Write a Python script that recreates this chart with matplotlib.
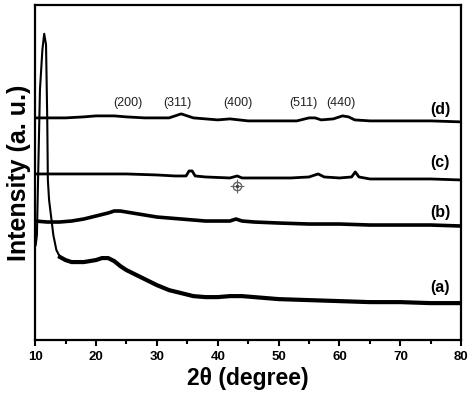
import matplotlib.pyplot as plt

plt.rcParams['font.family'] = ['Liberation Sans', 'DejaVu Sans']

# 2theta (degree) / intensity (a.u.)
two_theta_a = [10.1, 10.3, 10.8, 11.2, 11.5, 11.8, 12.0, 12.1, 12.3, 12.6, 13.0, 13.5, 14.1,
               15, 16, 18, 20, 21, 22, 23, 24, 25, 26, 27, 28, 29, 30, 32, 34, 36, 38,
               40, 42, 44, 46, 48, 50, 55, 60, 65, 70, 75, 80]
intensity_a = [95, 105, 250, 290, 306, 295, 220, 160, 140, 125, 105, 90, 83,
               80, 78, 78, 80, 82, 82, 79, 74, 70, 67, 64, 61, 58, 55, 50, 47, 44, 43,
               43, 44, 44, 43, 42, 41, 40, 39, 38, 38, 37, 37]

two_theta_b = [10, 12, 14, 16, 18, 20, 22, 23, 24, 25, 26, 28, 30, 32, 34, 36, 38,
               40, 42, 43, 44, 46, 50, 55, 60, 65, 70, 75, 80]
intensity_b = [119, 118, 118, 119, 121, 124, 127, 129, 129, 128, 127, 125, 123, 122, 121, 120, 119,
               119, 119, 121, 119, 118, 117, 116, 116, 115, 115, 115, 114]

two_theta_c = [10, 15, 20, 25, 30, 33, 34.8, 35.3, 35.8, 36.3, 38, 42, 43.2, 44, 48, 52,
               55, 56.5, 57.5, 60, 62, 62.6, 63.2, 65, 70, 75, 80]
intensity_c = [166, 166, 166, 166, 165, 164, 164, 169, 169, 164, 163, 162, 164, 162, 162, 162,
               163, 166, 163, 162, 163, 168, 163, 161, 161, 161, 160]

two_theta_d = [10, 15, 18, 20, 23, 25, 28, 32, 33, 34, 35, 36, 40, 42, 45, 50, 53,
               55, 56, 57, 59, 60.5, 61.5, 62.5, 65, 70, 75, 80]
intensity_d = [222, 222, 223, 224, 224, 223, 222, 222, 224, 226, 224, 222, 220, 221, 219, 219, 219,
               222, 222, 220, 221, 224, 223, 220, 219, 219, 219, 218]

hkl_labels = ['(200)', '(311)', '(400)', '(511)', '(440)']
hkl_pos = [25.3, 33.3, 43.3, 54.0, 60.2]
curve_labels = ['(a)', '(b)', '(c)', '(d)']
curve_label_y = [53, 128, 177, 230]

fig = plt.figure(figsize=(4.74, 3.96), dpi=100)
ax = fig.add_axes([0.074, 0.141, 0.899, 0.847])

# sharp low-angle peak is a thin line, the rest of each trace is a noisy band
n_peak = 12
ax.plot(two_theta_a[:n_peak + 1], intensity_a[:n_peak + 1], color='black', lw=1.5)
ax.plot(two_theta_a[n_peak:], intensity_a[n_peak:], color='black', lw=3.0)
ax.plot(two_theta_b, intensity_b, color='black', lw=2.6)
ax.plot(two_theta_c, intensity_c, color='black', lw=2.0)
ax.plot(two_theta_d, intensity_d, color='black', lw=2.0)

# marker on curve (c)
ax.plot([43.2], [154], marker='o', ms=6, mfc='white', mec='#666666', mew=1)
ax.plot([43.2], [154], marker='+', ms=10, color='#666666', mew=0.8)
ax.plot([43.2], [154], marker='.', ms=3, color='#444444')

for lab, pos in zip(hkl_labels, hkl_pos):
    ax.text(pos, 237, lab, ha='center', va='center', fontsize=9, color='#222222')

for lab, y in zip(curve_labels, curve_label_y):
    ax.text(76.5, y, lab, ha='center', va='center', fontsize=11.5, fontweight='bold')

ax.set_xlim(10, 80)
ax.set_ylim(0, 335)
ax.set_xticks(range(10, 81, 10))
ax.set_xticks(range(15, 80, 10), minor=True)
ax.set_yticks([])
ax.tick_params(axis='x', direction='out', length=4, width=1.5, labelsize=9.5, pad=3.5)
ax.tick_params(axis='x', which='minor', direction='out', length=3, width=1.5)
for t in ax.get_xticklabels():
    t.set_fontweight('bold')
for s in ax.spines.values():
    s.set_linewidth(1.6)

ax.set_xlabel('2θ (degree)', fontsize=16.5, fontweight='bold', labelpad=3)
ax.set_ylabel('Intensity (a. u.)', fontsize=18, fontweight='bold', labelpad=3)

plt.savefig('out.png', dpi=100)
plt.close()
